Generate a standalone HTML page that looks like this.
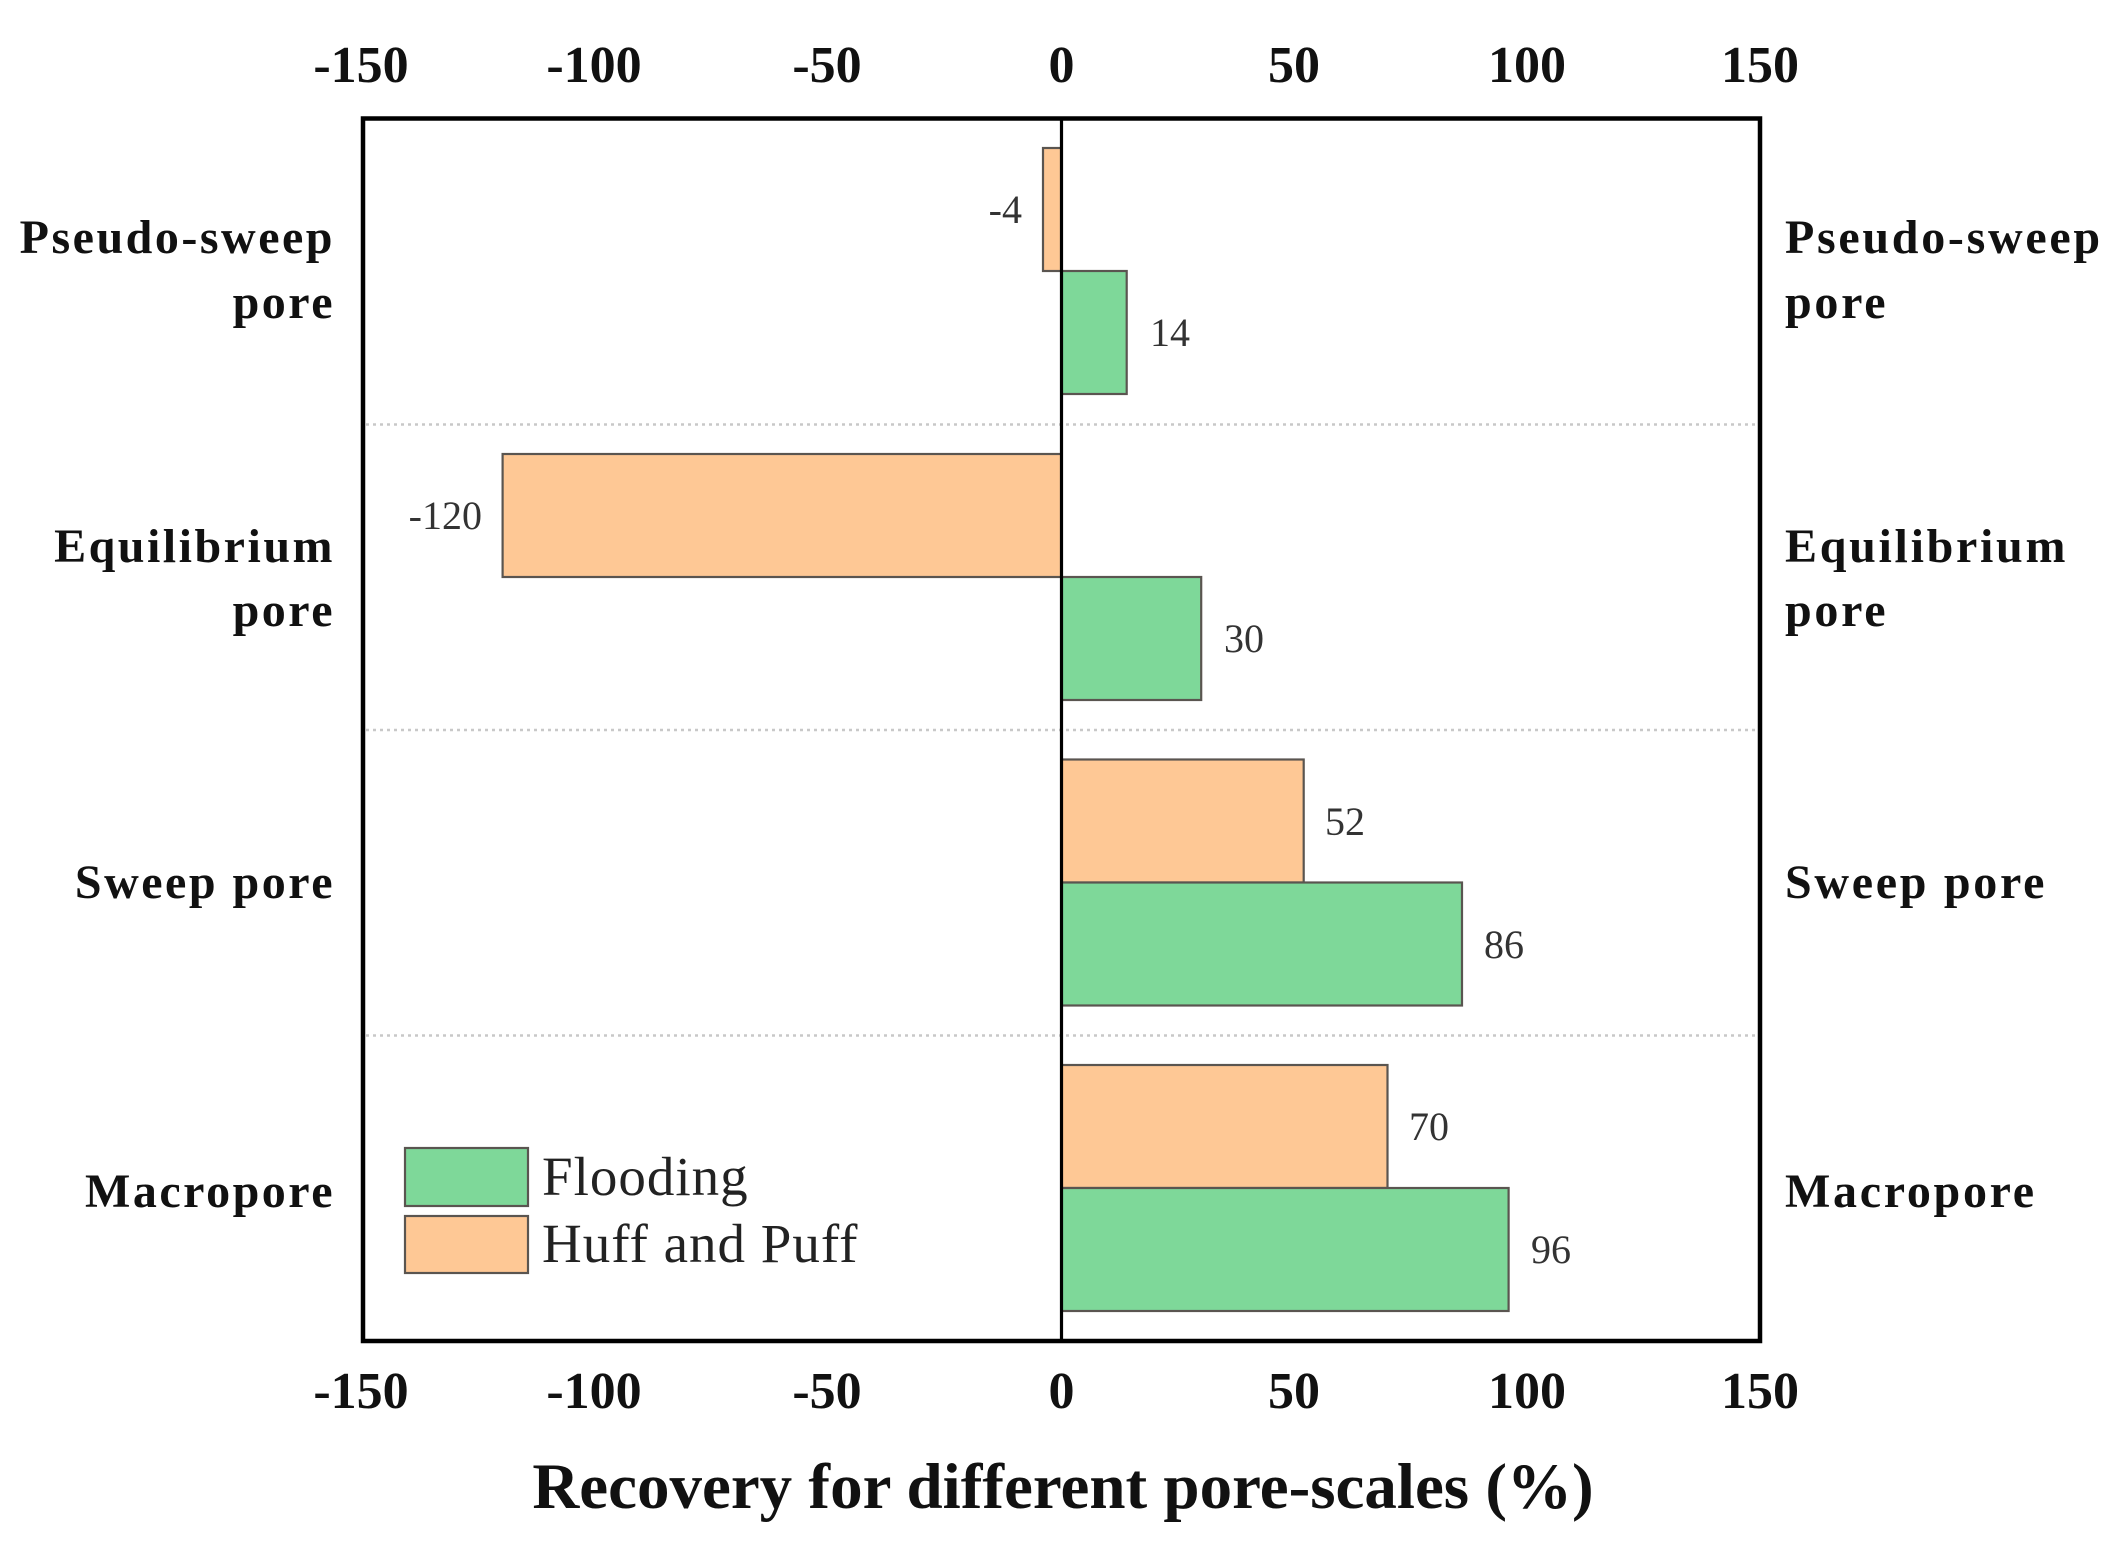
<!DOCTYPE html>
<html>
<head>
<meta charset="utf-8">
<style>
  html, body { margin: 0; padding: 0; background: #ffffff; }
  svg { display: block; }
</style>
</head>
<body>
<svg width="2122" height="1555" viewBox="0 0 2122 1555" xmlns="http://www.w3.org/2000/svg">
  <rect x="0" y="0" width="2122" height="1555" fill="#ffffff"/>

  <!-- dotted separators -->
  <g stroke="#c8c8c8" stroke-width="2.5" stroke-dasharray="3,4">
    <line x1="366" y1="424.5" x2="1758" y2="424.5"/>
    <line x1="366" y1="730" x2="1758" y2="730"/>
    <line x1="366" y1="1035.5" x2="1758" y2="1035.5"/>
  </g>

  <!-- bars -->
  <g stroke="#5a5550" stroke-width="2.2">
    <rect x="1043" y="148" width="18.5" height="123" fill="#FEC895"/>
    <rect x="1061.5" y="271" width="65.2" height="123" fill="#7ED899"/>
    <rect x="502.6" y="454" width="558.9" height="123" fill="#FEC895"/>
    <rect x="1061.5" y="577" width="139.7" height="123" fill="#7ED899"/>
    <rect x="1061.5" y="759.5" width="242.2" height="123" fill="#FEC895"/>
    <rect x="1061.5" y="882.5" width="400.5" height="123" fill="#7ED899"/>
    <rect x="1061.5" y="1065" width="326" height="123" fill="#FEC895"/>
    <rect x="1061.5" y="1188" width="447.1" height="123" fill="#7ED899"/>
  </g>

  <!-- zero line -->
  <line x1="1061.5" y1="118.5" x2="1061.5" y2="1341" stroke="#000" stroke-width="3.2"/>

  <!-- plot frame -->
  <rect x="363" y="118.5" width="1397" height="1222.5" fill="none" stroke="#000" stroke-width="4.5"/>

  <!-- value labels -->
  <g font-family="'Liberation Serif', serif" font-size="40" fill="#333">
    <text x="1022" y="223" text-anchor="end">-4</text>
    <text x="1150" y="346">14</text>
    <text x="482" y="529" text-anchor="end">-120</text>
    <text x="1224" y="652">30</text>
    <text x="1325" y="835">52</text>
    <text x="1484" y="958">86</text>
    <text x="1409" y="1140">70</text>
    <text x="1531" y="1263">96</text>
  </g>

  <!-- tick labels top -->
  <g font-family="'Liberation Serif', serif" font-weight="bold" font-size="52" fill="#111" text-anchor="middle">
    <text x="361" y="82">-150</text>
    <text x="594" y="82">-100</text>
    <text x="827" y="82">-50</text>
    <text x="1061.5" y="82">0</text>
    <text x="1294" y="82">50</text>
    <text x="1527" y="82">100</text>
    <text x="1760" y="82">150</text>
  </g>
  <!-- tick labels bottom -->
  <g font-family="'Liberation Serif', serif" font-weight="bold" font-size="52" fill="#111" text-anchor="middle">
    <text x="361" y="1408">-150</text>
    <text x="594" y="1408">-100</text>
    <text x="827" y="1408">-50</text>
    <text x="1061.5" y="1408">0</text>
    <text x="1294" y="1408">50</text>
    <text x="1527" y="1408">100</text>
    <text x="1760" y="1408">150</text>
  </g>

  <!-- left category labels -->
  <g font-family="'Liberation Serif', serif" font-weight="bold" font-size="48" fill="#111" text-anchor="end" letter-spacing="2.5">
    <text x="335" y="253">Pseudo-sweep</text>
    <text x="335" y="318">pore</text>
    <text x="335" y="562">Equilibrium</text>
    <text x="335" y="626">pore</text>
    <text x="335" y="898">Sweep pore</text>
    <text x="335" y="1207">Macropore</text>
  </g>

  <!-- right category labels -->
  <g font-family="'Liberation Serif', serif" font-weight="bold" font-size="48" fill="#111" letter-spacing="2.7">
    <text x="1785" y="253">Pseudo-sweep</text>
    <text x="1785" y="318">pore</text>
    <text x="1785" y="562">Equilibrium</text>
    <text x="1785" y="626">pore</text>
    <text x="1785" y="898">Sweep pore</text>
    <text x="1785" y="1207">Macropore</text>
  </g>

  <!-- legend -->
  <g stroke="#5a5550" stroke-width="2.2">
    <rect x="405" y="1148" width="123" height="58" fill="#7ED899"/>
    <rect x="405" y="1216" width="123" height="57" fill="#FEC895"/>
  </g>
  <g font-family="'Liberation Serif', serif" font-size="55" fill="#222" letter-spacing="1">
    <text x="542" y="1195">Flooding</text>
    <text x="542" y="1262">Huff and Puff</text>
  </g>

  <!-- axis title -->
  <text x="1063" y="1508" text-anchor="middle" font-family="'Liberation Serif', serif" font-weight="bold" font-size="65" fill="#111">Recovery for different pore-scales (%)</text>
</svg>
</body>
</html>
